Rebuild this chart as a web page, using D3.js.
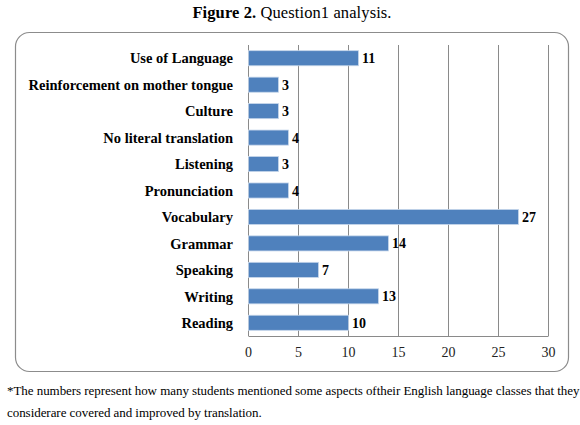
<!DOCTYPE html>
<html>
<head>
<meta charset="utf-8">
<script src="https://cdn.jsdelivr.net/npm/d3@7"></script>
<style>
  body { margin: 0; background: #fff; }
  svg { display: block; font-family: "Liberation Serif", "Times New Roman", serif; }
</style>
</head>
<body>
<div id="chart"></div>
<script>
// data
var categories = ["Use of Language", "Reinforcement on mother tongue", "Culture",
    "No literal translation", "Listening", "Pronunciation", "Vocabulary",
    "Grammar", "Speaking", "Writing", "Reading"];
var counts = [11, 3, 3, 4, 3, 4, 27, 14, 7, 13, 10];
var xTicks = [0, 5, 10, 15, 20, 25, 30];

var svgWidth = 580;
var svgHeight = 425;
var margin = { top: 45, right: 32, bottom: 89, left: 248 };
var width = svgWidth - margin.left - margin.right;
var height = svgHeight - margin.top - margin.bottom;

var svg = d3.select("#chart")
    .append("svg")
    .attr("width", svgWidth)
    .attr("height", svgHeight);

// title
var title = svg.append("text")
    .attr("x", 292)
    .attr("y", 18)
    .attr("text-anchor", "middle")
    .attr("font-size", 16.5)
    .attr("letter-spacing", 0.1)
    .attr("fill", "#000");
title.append("tspan").attr("font-weight", "bold").text("Figure 2.");
title.append("tspan").text(" Question1 analysis.");

// chart frame
svg.append("rect")
    .attr("x", 15.5)
    .attr("y", 32.5)
    .attr("width", 553)
    .attr("height", 339)
    .attr("rx", 14)
    .attr("fill", "#fff")
    .attr("stroke", "#8c8c8c")
    .attr("stroke-width", 1.2);

var chartGroup = svg.append("g")
    .attr("transform", `translate(${margin.left}, ${margin.top})`);

var xScale = d3.scaleLinear()
    .domain([0, 30])
    .range([0, width]);

var yScale = d3.scaleBand()
    .domain(categories)
    .range([0, height])
    .paddingInner(0.43)
    .paddingOuter(0.215);

// vertical grid lines
chartGroup.selectAll(".grid")
    .data(xTicks)
    .enter()
    .append("line")
    .attr("class", "grid")
    .attr("x1", d => Math.round(xScale(d)) + 0.5)
    .attr("x2", d => Math.round(xScale(d)) + 0.5)
    .attr("y1", 0)
    .attr("y2", height)
    .attr("stroke", "#8a8a8a")
    .attr("stroke-width", 1);

// bottom axis
var bottomAxis = d3.axisBottom(xScale)
    .tickValues(xTicks)
    .tickSize(0)
    .tickPadding(11);

var xAxis = chartGroup.append("g")
    .attr("transform", `translate(0, ${height})`)
    .call(bottomAxis);
xAxis.select(".domain").attr("stroke", "#8a8a8a");
xAxis.selectAll("text")
    .attr("font-family", "Liberation Serif, serif")
    .attr("font-size", 14)
    .attr("fill", "#222");

// bars
chartGroup.selectAll(".bar")
    .data(counts)
    .enter()
    .append("rect")
    .attr("class", "bar")
    .attr("x", xScale(0) + 0.5)
    .attr("y", (d, i) => yScale(categories[i]))
    .attr("width", d => xScale(d) - xScale(0))
    .attr("height", yScale.bandwidth())
    .attr("fill", "#4f81bd")
    .attr("stroke", "#c6d6ea")
    .attr("stroke-width", 0.8);

// value labels
chartGroup.selectAll(".value")
    .data(counts)
    .enter()
    .append("text")
    .attr("class", "value")
    .attr("x", d => xScale(d) + 4)
    .attr("y", (d, i) => yScale(categories[i]) + yScale.bandwidth() / 2)
    .attr("dy", "0.36em")
    .attr("font-size", 14)
    .attr("font-weight", "bold")
    .attr("fill", "#000")
    .text(d => d);

// category labels
chartGroup.selectAll(".cat")
    .data(categories)
    .enter()
    .append("text")
    .attr("class", "cat")
    .attr("x", -15)
    .attr("y", d => yScale(d) + yScale.bandwidth() / 2)
    .attr("dy", "0.36em")
    .attr("text-anchor", "end")
    .attr("font-size", 14.5)
    .attr("font-weight", "bold")
    .attr("fill", "#000")
    .text(d => d);

// footnote
var notes = ["*The numbers represent how many students mentioned some aspects oftheir English language classes that they",
    "considerare covered and improved by translation."];
svg.selectAll(".note")
    .data(notes)
    .enter()
    .append("text")
    .attr("class", "note")
    .attr("x", 7)
    .attr("y", (d, i) => 394.5 + i * 22)
    .attr("font-size", 13)
    .attr("letter-spacing", -0.05)
    .attr("fill", "#000")
    .text(d => d);
</script>
</body>
</html>
